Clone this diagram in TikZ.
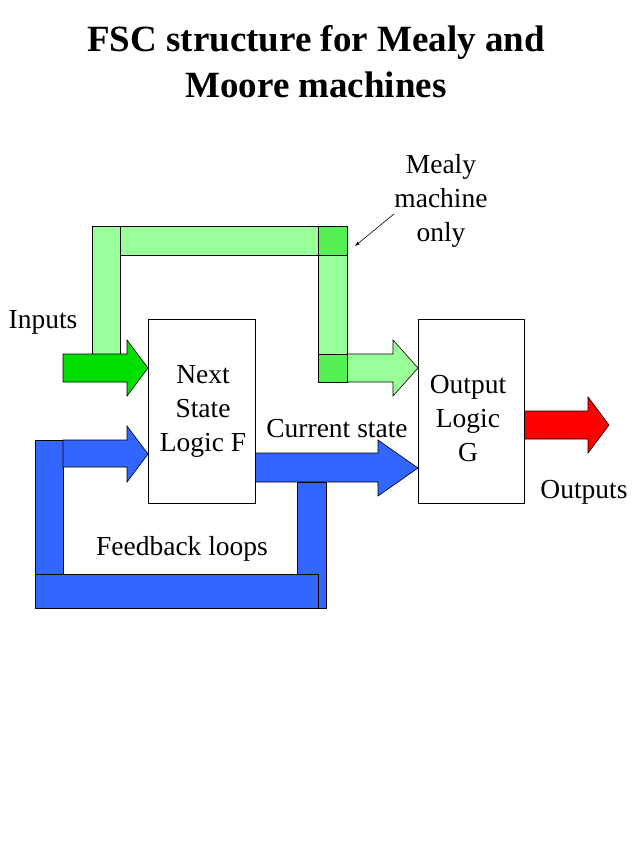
\documentclass[tikz,border=0pt]{standalone}
\usepackage{fontspec}
\setmainfont{Liberation Serif}
\begin{document}
\begin{tikzpicture}[x=1pt,y=-1pt]
\useasboundingbox (0,0) rectangle (638,851);
\definecolor{lgc}{RGB}{153,255,153}
\definecolor{dgc}{RGB}{85,240,85}
\definecolor{igc}{RGB}{0,224,0}
\definecolor{blc}{RGB}{51,102,255}
\definecolor{rdc}{RGB}{255,0,0}
\tikzset{lg/.style={fill=lgc,draw=black,line width=0.6pt},
 dg/.style={fill=dgc,draw=black,line width=0.6pt},
 ig/.style={fill=igc,draw=black,line width=0.6pt},
 bl/.style={fill=blc,draw=black,line width=0.6pt},
 rd/.style={fill=rdc,draw=black,line width=0.6pt},
 txt/.style={font=\fontsize{27.5}{34}\selectfont,align=center,inner sep=0pt},
 box/.style={draw=black,fill=white,line width=0.6pt}}
\node[font=\bfseries\fontsize{37}{46}\selectfont,align=center] (title) at (316,62) {FSC structure for Mealy and\\Moore machines};
% green path
\draw[lg] (92,226) rectangle (120,355);
\draw[lg] (120,226) rectangle (318,255);
\draw[dg] (318,226) rectangle (347,255);
\draw[lg] (318,255) rectangle (347,354);
\draw[lg] (347,354) -- (393,354) -- (393,340) -- (418,368) -- (393,396) -- (393,382) -- (347,382) -- cycle;
\draw[dg] (318,354) rectangle (347,382);
% input arrow
\draw[ig] (63,354) -- (127,354) -- (127,340) -- (148,368) -- (127,396) -- (127,382) -- (63,382) -- cycle;
% blue
\draw[bl] (35,440) rectangle (63,574);
\draw[bl] (63,440) -- (127,440) -- (127,426) -- (148,454) -- (127,482) -- (127,467) -- (63,467) -- cycle;
\draw[bl] (255,453) -- (378,453) -- (378,440) -- (418,468) -- (378,496) -- (378,482) -- (255,482) -- cycle;
\draw[bl] (297,482) rectangle (326,608);
\draw[bl] (35,574) rectangle (318,608);
% red
\draw[rd] (524,411) -- (588,411) -- (588,397) -- (609,425) -- (588,453) -- (588,439) -- (524,439) -- cycle;
% boxes
\node[box,minimum width=107,minimum height=184,inner sep=0pt] (nsl) at (201.5,411) {};
\node[txt] (nsltxt) at (203,411) {Next\\State\\Logic F};
\node[box,minimum width=106,minimum height=184,inner sep=0pt] (out) at (471,411) {};
\node[txt] (outtxt) at (468,419) {Output\\Logic\\G};
% labels
\node[txt] (inputs) at (43,322) {Inputs};
\node[txt] (cs) at (337,429) {Current state};
\node[txt] (outputs) at (584,492) {Outputs};
\node[txt] (fb) at (182,549) {Feedback loops};
\node[txt] (mealy) at (441,201) {Mealy\\machine\\only};
\coordinate (mtip) at (355,246);
\draw[-latex,line width=0.6pt] (394,214) -- (mtip);
\end{tikzpicture}
\end{document}
